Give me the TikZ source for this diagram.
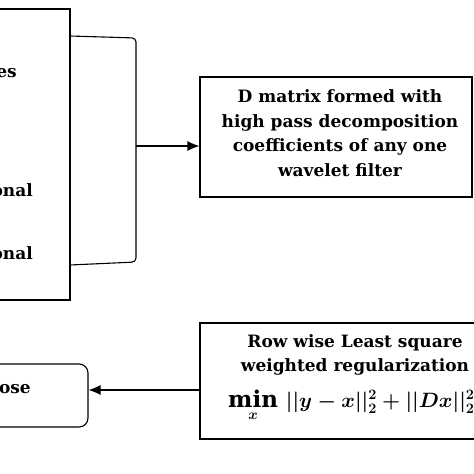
\documentclass[tikz,border=0pt]{standalone}
\usepackage{fontspec}
\usepackage{amsmath,bm}
\setmainfont{DejaVu Serif}
\usetikzlibrary{arrows.meta}
\tikzset{
  block/.style={draw, line width=1.1pt, inner sep=0pt},
  txt/.style={font=\bfseries\fontsize{17}{24.5}\selectfont, align=center, inner sep=0pt},
}
\begin{document}
\begin{tikzpicture}[x=1pt,y=-1pt,>={Latex[length=12pt,width=10pt]}]
\useasboundingbox (0,0) rectangle (474,474);
\clip (0,0) rectangle (474,474);
    % left input box and its bracket
    \node[block, minimum width=140pt, minimum height=291pt] (inp) at (0,154.5) {};
    \node[txt, anchor=east] (ta) at (17,73) {es};
    \node[txt, anchor=east] (tb) at (33,190) {onal};
    \node[txt, anchor=east] (tc) at (33,253) {onal};
    \coordinate (bt) at (70,36);
    \coordinate (bb) at (70,265);
    \coordinate (bm) at (136,146);
    \draw[line width=1.1pt, rounded corners=4pt] (bt) -- (136,38) -- (136,262) -- (bb);
    % D matrix box
    \node[block, minimum width=272pt, minimum height=120pt] (dmat) at (336,137) {};
    \node[txt] (dtext) at (340,133) {D matrix formed with\\high pass decomposition\\coefficients of any one\\wavelet filter};
    \draw [->, line width=1.1pt] (bm) to (dmat.west |- bm);
    % least square box
    \node[block, minimum width=310pt, minimum height=116pt] (lsq) at (355,381) {};
    \node[txt] (ltext) at (355,355) {Row wise Least square\\weighted regularization};
    \node[inner sep=0pt, anchor=west, font=\boldmath\fontsize{21}{22}\selectfont] (lform) at (228,406)
      {$\mathop{\textbf{\fontsize{23}{23}\selectfont min}}\limits_{x}\,||y-x||_2^2+||Dx||_2^2$};
    % output box
    \node[block, rounded corners=9pt, minimum width=180pt, minimum height=63pt] (outp) at (-2,395.5) {};
    \node[txt, anchor=east] (td) at (31,389) {ose};
    \coordinate (la) at (200,390);
    \draw [->, line width=1.1pt] (la) to (outp.east |- la);
\end{tikzpicture}
\end{document}
